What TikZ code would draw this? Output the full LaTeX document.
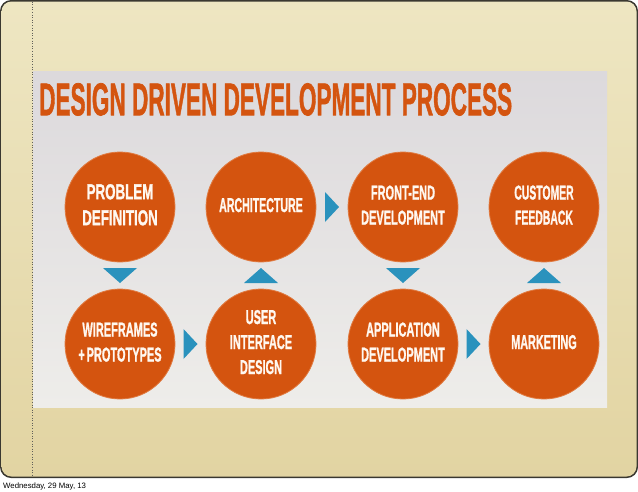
\documentclass[tikz,border=0pt]{standalone}
\usepackage{fontspec}
\usepackage{graphicx}
\setmainfont{Liberation Sans}
\newfontfamily\heavyfont[FakeBold=1.6]{Liberation Sans Bold}
\usetikzlibrary{calc}
\definecolor{ddorange}{HTML}{D4540F}
\definecolor{ddring}{HTML}{E07A40}
\definecolor{ddblue}{HTML}{2A92BD}
\definecolor{beigetop}{HTML}{EEE6C2}
\definecolor{beigebot}{HTML}{E2D4A2}
\definecolor{paneltop}{HTML}{DCD9DC}
\definecolor{panelbot}{HTML}{EEEDEA}
\definecolor{framec}{HTML}{3A3830}
\definecolor{textw}{HTML}{FFF8F0}
\newcommand{\cond}[2][0.54]{\scalebox{#1}[1]{\begin{tabular}{@{}c@{}}#2\end{tabular}}}
\begin{document}
\begin{tikzpicture}[x=1pt,y=-1pt,
  stage/.style={circle,fill=ddorange,draw=ddring,line width=0.8pt,minimum size=110pt,inner sep=0pt,text=textw,font=\fontsize{20}{25}\heavyfont},
  tri/.style={fill=ddblue}]
\useasboundingbox (0,0) rectangle (638,491);
\fill[white] (0,0) rectangle (638,491);
\fill[framec, rounded corners=11pt] (0,0) rectangle (638,478);
\shade[top color=beigetop,bottom color=beigebot, rounded corners=10pt] (1.5,1.5) rectangle (636.5,476.5);
\draw[framec!80, dotted, line width=0.6pt] (32,1.5) -- (32,476);
\shade[top color=paneltop,bottom color=panelbot] (33,71) rectangle (607,407);
\node[anchor=north west, inner sep=0pt, text=ddorange] (title) at (39,83) {\resizebox{473pt}{32pt}{\heavyfont DESIGN DRIVEN DEVELOPMENT PROCESS}};
% top row
\node[stage, font=\fontsize{21.5}{26}\heavyfont] (pd) at (120,207) {\cond[0.62]{PROBLEM\\DEFINITION}};
\node[stage] (ar) at (261,207) {\cond[0.53]{ARCHITECTURE}};
\node[stage] (fe) at (403,207) {\cond[0.55]{FRONT-END\\DEVELOPMENT}};
\node[stage] (cf) at (544,207) {\cond[0.52]{CUSTOMER\\FEEDBACK}};
% bottom row
\node[stage] (wf) at (120,344) {\cond[0.55]{WIREFRAMES\\+\,PROTOTYPES}};
\node[stage] (ui) at (261,344) {\cond[0.55]{USER\\INTERFACE\\DESIGN}};
\node[stage] (ad) at (403,344) {\cond[0.55]{APPLICATION\\DEVELOPMENT}};
\node[stage] (mk) at (544,344) {\cond[0.54]{MARKETING}};
% triangles
\fill[tri] ($(pd)!0.5!(wf)$) ++(-17,-7.5) -- ++(34,0) -- ++(-17,15) -- cycle;
\fill[tri] ($(ui)!0.5!(ar)$) ++(-17,7.5) -- ++(34,0) -- ++(-17,-15) -- cycle;
\fill[tri] ($(fe)!0.5!(ad)$) ++(-17,-7.5) -- ++(34,0) -- ++(-17,15) -- cycle;
\fill[tri] ($(mk)!0.5!(cf)$) ++(-17,7.5) -- ++(34,0) -- ++(-17,-15) -- cycle;
\fill[tri] ($(ar)!0.5!(fe)$) ++(-7,-15) -- ++(0,30) -- ++(14,-15) -- cycle;
\fill[tri] ($(wf)!0.5!(ui)$) ++(-7,-15) -- ++(0,30) -- ++(14,-15) -- cycle;
\fill[tri] ($(ad)!0.5!(mk)$) ++(-7,-15) -- ++(0,30) -- ++(14,-15) -- cycle;
\node[anchor=base west, inner sep=0pt, font=\fontsize{7.8}{9}\selectfont] (date) at (3,488) {Wednesday, 29 May, 13};
\end{tikzpicture}
\end{document}
